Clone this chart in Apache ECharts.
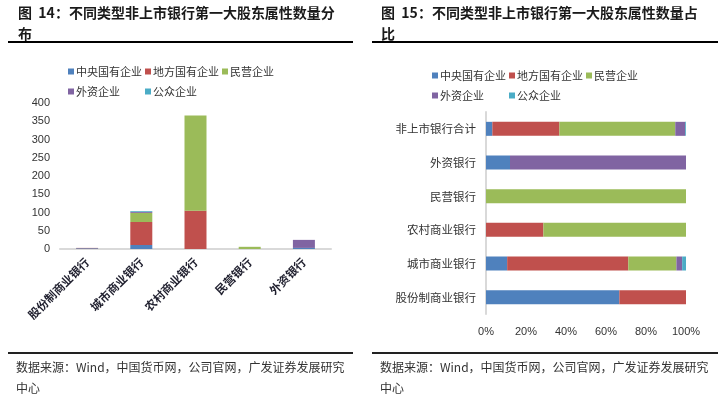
<!DOCTYPE html>
<html>
<head>
<meta charset="utf-8">
<script src="https://cdn.jsdelivr.net/npm/echarts@6/dist/echarts.min.js"></script>
<style>
  html, body { margin: 0; padding: 0; background: #fff; }
  #chart { width: 726px; height: 397px; }
</style>
</head>
<body>
<div id="chart"></div>
<script>
// 图14：各类银行第一大股东属性数量
var bankTypes = ["股份制商业银行", "城市商业银行", "农村商业银行", "民营银行", "外资银行"];
var ownerTypes = ["中央国有企业", "地方国有企业", "民营企业", "外资企业", "公众企业"];
var central = [2, 11, 0, 0, 3];
var local = [1, 63, 105, 0, 0];
var privateOwned = [0, 25, 261, 6, 0];
var foreign = [0, 3, 0, 0, 22];
var publicOwned = [0, 2, 0, 0, 0];
var countTicks = [0, 50, 100, 150, 200, 250, 300, 350, 400];

// 图15：占比（自下而上）
var shareCats = ["股份制商业银行", "城市商业银行", "农村商业银行", "民营银行", "外资银行", "非上市银行合计"];
var pctTicks = [0, 20, 40, 60, 80, 100];

var colors = ["#4F81BD", "#C0504D", "#9BBB59", "#8064A2", "#4BACC6"];
var cjk = '"Noto Sans CJK SC", sans-serif';
var latin = '"Liberation Sans", Arial, sans-serif';

var counts = [central, local, privateOwned, foreign, publicOwned];

// shares per bank type, plus the overall row
function shareRows() {
  var totals = bankTypes.map(function (b, i) {
    return counts.reduce(function (s, arr) { return s + arr[i]; }, 0);
  });
  var grand = totals.reduce(function (s, v) { return s + v; }, 0);
  return counts.map(function (arr) {
    var row = arr.map(function (v, i) { return +(v / totals[i] * 100).toFixed(2); });
    var sum = arr.reduce(function (s, v) { return s + v; }, 0);
    row.push(+(sum / grand * 100).toFixed(2));
    return row;
  });
}
var shares = shareRows();

var chart = echarts.init(document.getElementById("chart"));

// one legend per item so they sit in a 3-column grid like the original
function legendGrid(x0, y0) {
  return ownerTypes.map(function (name, k) {
    return {
      data: [name],
      left: x0 + (k % 3) * 77,
      top: y0 + Math.floor(k / 3) * 20,
      itemWidth: 6,
      itemHeight: 6,
      icon: "rect",
      textStyle: { fontFamily: cjk, fontSize: 11, color: "#333", padding: [0, 0, 0, -3] }
    };
  });
}

var series = [];
ownerTypes.forEach(function (name, k) {
  series.push({
    name: name,
    type: "bar",
    stack: "count",
    xAxisIndex: 0,
    yAxisIndex: 0,
    barWidth: 22,
    itemStyle: { color: colors[k] },
    data: counts[k]
  });
});
ownerTypes.forEach(function (name, k) {
  series.push({
    name: name,
    type: "bar",
    stack: "share",
    xAxisIndex: 1,
    yAxisIndex: 1,
    barWidth: 14,
    itemStyle: { color: colors[k] },
    data: shares[k]
  });
});

chart.setOption({
  animation: false,
  color: colors,
  legend: legendGrid(63, 61).concat(legendGrid(427, 65)),
  grid: [
    { left: 60, top: 103, width: 271, height: 146 },
    { left: 486, top: 112, width: 200, height: 202 }
  ],
  xAxis: [
    {
      type: "category",
      gridIndex: 0,
      data: bankTypes,
      axisLine: { lineStyle: { color: "#d9d9d9", width: 2 } },
      axisTick: { show: false },
      axisLabel: {
        rotate: 45,
        margin: 11,
        interval: 0,
        fontFamily: cjk,
        fontSize: 11.5,
        fontWeight: "bold",
        color: "#1f1f2e"
      }
    },
    {
      type: "value",
      gridIndex: 1,
      min: pctTicks[0],
      max: pctTicks[pctTicks.length - 1],
      interval: 20,
      axisLine: { show: false },
      axisTick: { show: false },
      splitLine: { show: false },
      axisLabel: { formatter: "{value}%", fontFamily: latin, fontSize: 11, color: "#333", margin: 12 }
    }
  ],
  yAxis: [
    {
      type: "value",
      gridIndex: 0,
      min: countTicks[0],
      max: countTicks[countTicks.length - 1],
      interval: 50,
      axisLine: { show: false },
      axisTick: { show: false },
      splitLine: { show: false },
      axisLabel: { fontFamily: latin, fontSize: 11, color: "#333", margin: 10 }
    },
    {
      type: "category",
      gridIndex: 1,
      data: shareCats,
      axisLine: { lineStyle: { color: "#d9d9d9", width: 2 } },
      axisTick: { show: false },
      axisLabel: { fontFamily: cjk, fontSize: 11.5, color: "#333", margin: 10 }
    }
  ],
  series: series,
  graphic: [
    {
      type: "text", left: 18, top: 2,
      style: {
        text: "图  14：不同类型非上市银行第一大股东属性数量分\n布",
        font: "bold 14px " + cjk, fill: "#1a1a1a", lineHeight: 21
      }
    },
    {
      type: "text", left: 381, top: 2,
      style: {
        text: "图  15：不同类型非上市银行第一大股东属性数量占\n比",
        font: "bold 14px " + cjk, fill: "#1a1a1a", lineHeight: 21
      }
    },
    { type: "line", shape: { x1: 8, y1: 42, x2: 353, y2: 42 }, style: { stroke: "#000", lineWidth: 2 } },
    { type: "line", shape: { x1: 372, y1: 42, x2: 718, y2: 42 }, style: { stroke: "#000", lineWidth: 2 } },
    { type: "line", shape: { x1: 8, y1: 353, x2: 353, y2: 353 }, style: { stroke: "#222", lineWidth: 2 } },
    { type: "line", shape: { x1: 372, y1: 353, x2: 718, y2: 353 }, style: { stroke: "#222", lineWidth: 2 } },
    {
      type: "text", left: 16, top: 357,
      style: {
        text: "数据来源：Wind，中国货币网，公司官网，广发证券发展研究\n中心",
        font: "12px " + cjk, fill: "#333", lineHeight: 21
      }
    },
    {
      type: "text", left: 380, top: 357,
      style: {
        text: "数据来源：Wind，中国货币网，公司官网，广发证券发展研究\n中心",
        font: "12px " + cjk, fill: "#333", lineHeight: 21
      }
    }
  ]
});
</script>
</body>
</html>
